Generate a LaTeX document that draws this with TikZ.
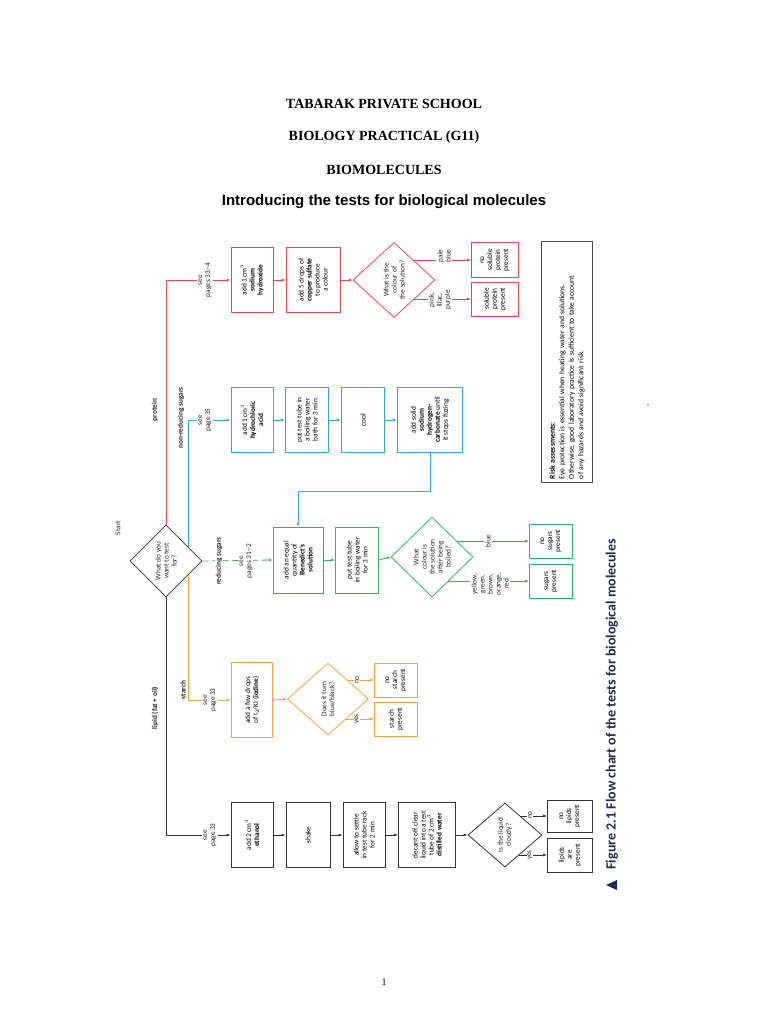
\documentclass[tikz,border=0pt]{standalone}
\usepackage{fontspec}
\setmainfont{Liberation Serif}
\setsansfont{Liberation Sans}
\newfontfamily\chartfam{Carlito}
\usetikzlibrary{shapes.geometric,arrows.meta}
\newcommand\chfont{\chartfam\fontsize{7.3}{8}\selectfont}
\definecolor{cR}{HTML}{E8474F}
\definecolor{cB}{HTML}{29ABE2}
\definecolor{cG}{HTML}{2EB362}
\definecolor{cO}{HTML}{F7A13A}
\definecolor{cK}{HTML}{333333}
\definecolor{capcol}{HTML}{1C2B52}
\tikzset{
 box/.style={draw=#1, line width=0.8pt, rotate=90, align=center, font=\chfont, inner sep=1pt},
 dia/.style={draw=#1, diamond, line width=0.8pt, rotate=90, inner sep=0pt, aspect=1},
 lab/.style={rotate=90, align=center, font=\chfont, text=black!85, inner sep=1pt},
 blab/.style={lab, font=\chfont\bfseries},
 ln/.style={draw=#1, line width=0.8pt},
 arr/.style={draw=#1, line width=0.8pt, -{Latex[length=4pt,width=3pt]}},
}
\begin{document}
\begin{tikzpicture}[x=1pt,y=-1pt]
\useasboundingbox (0,0) rectangle (768,1024);
\fill[white] (0,0) rectangle (768,1024);
% titles
\node[font=\fontsize{14}{16}\selectfont\bfseries] (t1) at (384,104) {TABARAK PRIVATE SCHOOL};
\node[font=\fontsize{14}{16}\selectfont\bfseries] (t2) at (384,137) {BIOLOGY PRACTICAL (G11)};
\node[font=\fontsize{14}{16}\selectfont\bfseries] (t3) at (384,170) {BIOMOLECULES};
\node[font=\sffamily\fontsize{15}{17}\selectfont\bfseries] (t4) at (384,202) {Introducing the tests for biological molecules};
\node[font=\fontsize{10}{12}\selectfont] (pg) at (384,982) {1};
\node[font=\fontsize{10}{12}\selectfont] (dot) at (648,405) {.};

% start
\node[dia=cK, minimum width=72pt, minimum height=72pt] (st) at (166,561) {};
\node[lab] (stt) at (166,561) {What do you\\ want to test\\ for?};
\node[lab] (stl) at (118,528) {Start};
\coordinate (stB) at (188,547);
\coordinate (stO) at (188,575);

% protein
\node[box=cR, minimum width=65pt, minimum height=42pt] (p1) at (252,280) {add 1\,cm$^3$\\ \textbf{sodium}\\ \textbf{hydroxide}};
\node[box=cR, minimum width=65pt, minimum height=54pt] (p2) at (313,280) {add 5 drops of\\ \textbf{copper sulfate}\\ to produce\\ a colour};
\node[dia=cR, minimum width=75pt, minimum height=82pt] (pd) at (394,280) {};
\node[lab] (pdt) at (394,280) {What is the\\ colour of\\ the solution?};
\node[box=cR, minimum width=35pt, minimum height=47pt] (pn) at (495,260) {no\\ soluble\\ protein\\ present};
\node[box=cR, minimum width=34pt, minimum height=47pt] (ps) at (495,299) {soluble\\ protein\\ present};
\node[lab] (seeP) at (205,280) {see\\ pages 33--4};
\node[blab] (protl) at (155,410) {protein};
\coordinate (pdA) at (413,260);
\coordinate (pdB) at (414,299);
\draw[ln=cR] (st.east) |- (seeP.north);
\draw[arr=cR] (seeP.south) -- (p1.north);
\draw[arr=cR] (p1.south) -- (p2.north);
\draw[arr=cR] (p2.south) -- (pd.north);
\draw[arr=cR] (pdA) -- (pn.north);
\draw[arr=cR] (pdB) -- (ps.north);
\node[lab, fill=white] (pl1) at (444,256) {pale\\ blue};
\node[lab, fill=white] (pl2) at (440,300) {pink,\\ lilac,\\ purple};

% non-reducing
\node[box=cB, minimum width=65pt, minimum height=42pt] (b1) at (252,420) {add 1\,cm$^3$\\ \textbf{hydrochloric}\\ \textbf{acid}};
\node[box=cB, minimum width=65pt, minimum height=43pt] (b2) at (307,420) {put test tube in\\ a boiling water\\ bath for 3 min};
\node[box=cB, minimum width=65pt, minimum height=43pt] (b3) at (363,420) {cool};
\node[box=cB, minimum width=65pt, minimum height=65pt] (b4) at (430,420) {add solid\\ \textbf{sodium}\\ \textbf{hydrogen-}\\ \textbf{carbonate} until\\ it stops fizzing};
\node[lab] (seeB) at (205,420) {see\\ page 35};
\node[blab] (nrl) at (181,418) {non-reducing sugars};
\draw[ln=cB] (stB) |- (seeB.north);
\draw[arr=cB] (seeB.south) -- (b1.north);
\draw[arr=cB] (b1.south) -- (b2.north);
\draw[arr=cB] (b2.south) -- (b3.north);
\draw[arr=cB] (b3.south) -- (b4.north);

% reducing
\node[box=cG, minimum width=66pt, minimum height=50pt] (g1) at (298,560) {add an equal\\ quantity of\\ \textbf{Benedict's}\\ \textbf{solution}};
\node[box=cG, minimum width=66pt, minimum height=43pt] (g2) at (357,560) {put test tube\\ in boiling water\\ for 3 min};
\node[dia=cG, minimum width=80pt, minimum height=82pt] (gd) at (432,557) {};
\node[lab] (gdt) at (432,557) {What\\ colour is\\ the solution\\ after being\\ boiled?};
\node[box=cG, minimum width=34pt, minimum height=43pt] (gn) at (551,541) {no\\ sugars\\ present};
\node[box=cG, minimum width=34pt, minimum height=43pt] (gs) at (551,581) {sugars\\ present};
\draw[arr=cB] (b4.west) -- ++(0,38) -| (g1.east);
\draw[arr=cG, dash pattern=on 6pt off 4pt] (st.south) -- (g1.north);
\node[blab, fill=white] (rsl) at (219,561) {reducing sugars};
\node[lab, fill=white] (seeG) at (246,561) {see\\ pages 31--2};
\draw[arr=cG] (g1.south) -- (g2.north);
\draw[arr=cG] (g2.south) -- (gd.north);
\coordinate (gdA) at (457,541);
\coordinate (gdB) at (448,581);
\draw[arr=cG] (gdA) -- (gn.north);
\draw[arr=cG] (gdB) -- (gs.north);
\node[lab, fill=white] (gl1) at (488,541) {blue};
\node[lab, fill=white] (gl2) at (490,584) {yellow,\\ green,\\ brown,\\ orange,\\ red};

% starch
\node[box=cO, minimum width=75pt, minimum height=41pt] (o1) at (252,700) {add a few drops\\ of I$_2$/KI (\textbf{iodine})};
\node[dia=cO, minimum width=72pt, minimum height=81pt] (od) at (328,699) {};
\node[lab] (odt) at (328,699) {Does it turn\\ blue/black?};
\node[box=cO, minimum width=34pt, minimum height=43pt] (on) at (396,680) {no\\ starch\\ present};
\node[box=cO, minimum width=34pt, minimum height=43pt] (os) at (396,719) {starch\\ present};
\node[lab] (seeO) at (210,700) {see\\ page 33};
\node[blab] (stl2) at (183,690) {starch};
\draw[ln=cO] (stO) |- (seeO.north);
\draw[arr=cO] (seeO.south) -- (o1.north);
\draw[arr=cO] (o1.south) -- (od.north);
\coordinate (odA) at (347,680);
\coordinate (odB) at (346,719);
\draw[arr=cO] (odA) -- (on.north);
\draw[arr=cO] (odB) -- (os.north);
\node[lab, fill=white] (ol1) at (357,680) {no};
\node[lab, fill=white] (ol2) at (357,719) {yes};

% lipid
\node[box=cK, minimum width=65pt, minimum height=42pt] (k1) at (252,835) {add 2\,cm$^3$\\ \textbf{ethanol}};
\node[box=cK, minimum width=65pt, minimum height=44pt] (k2) at (308,835) {shake};
\node[box=cK, minimum width=65pt, minimum height=42pt] (k3) at (364,835) {allow to settle\\ in test tube rack\\ for 2 min};
\node[box=cK, minimum width=65pt, minimum height=57pt] (k4) at (427,835) {decant off clear\\ liquid into a test\\ tube of 2\,cm$^3$\\ \textbf{distilled water}};
\node[dia=cK, minimum width=64pt, minimum height=74pt] (kd) at (505,835) {};
\node[lab] (kdt) at (505,835) {Is the liquid\\ cloudy?};
\node[box=cK, minimum width=32pt, minimum height=45pt] (kn) at (570,816) {no\\ lipids\\ present};
\node[box=cK, minimum width=34pt, minimum height=45pt] (ky) at (570,855) {lipids\\ are\\ present};
\node[lab] (seeK) at (210,835) {see\\ page 33};
\node[blab] (lipl) at (155,708) {lipid (fat + oil)};
\draw[ln=cK] (st.west) |- (seeK.north);
\draw[arr=cK] (seeK.south) -- (k1.north);
\draw[arr=cK] (k1.south) -- (k2.north);
\draw[arr=cK] (k2.south) -- (k3.north);
\draw[arr=cK] (k3.south) -- (k4.north);
\draw[arr=cK] (k4.south) -- (kd.north);
\coordinate (kdA) at (520,816);
\coordinate (kdB) at (519,855);
\draw[arr=cK] (kdA) -- (kn.north);
\draw[arr=cK] (kdB) -- (ky.north);
\node[lab, fill=white] (kl1) at (530,815) {no};
\node[lab, fill=white] (kl2) at (530,855) {yes};

% risk box
\node[draw=black!70, line width=1pt, rotate=90, minimum width=240pt, minimum height=51pt, text width=234pt, align=left, font=\chartfam\fontsize{7.6}{9.5}\selectfont] (risk) at (567,362) {\textbf{Risk assessments:}\\ Eye protection is essential when heating water and solutions.\\ Otherwise, good laboratory practice is sufficient to take account\\ of any hazards and avoid significant risk.};

% caption
\fill[capcol] (606,885) -- (617,880) -- (617,890) -- cycle;
\node[rotate=90, anchor=west, font=\chartfam\bfseries\fontsize{14}{16}\selectfont, text=capcol] (capt) at (612,873) {Figure 2.1 Flow chart of the tests for biological molecules};
\end{tikzpicture}
\end{document}
